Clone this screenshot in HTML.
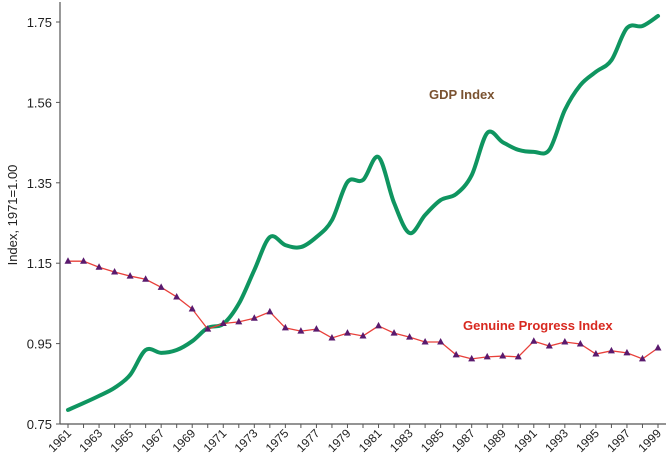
<!DOCTYPE html>
<html><head><meta charset="utf-8"><style>
html,body{margin:0;padding:0;background:#fff;}
svg{display:block;font-family:"Liberation Sans",Arial,sans-serif;}
</style></head><body>
<svg id="chart" width="672" height="462" viewBox="0 0 672 462"></svg>
<script>
const years = [];
for (let y = 1961; y <= 1999; y++) years.push(y);
const gdpValues = [0.785,0.802,0.82,0.84,0.872,0.934,0.927,0.934,0.956,0.989,0.999,1.049,1.133,1.215,1.195,1.19,1.215,1.257,1.352,1.357,1.414,1.3,1.225,1.27,1.307,1.322,1.369,1.474,1.451,1.432,1.427,1.432,1.531,1.593,1.626,1.655,1.735,1.74,1.765];
const gpiValues = [1.155,1.155,1.14,1.128,1.118,1.11,1.09,1.066,1.036,0.986,1.0,1.004,1.013,1.029,0.989,0.981,0.986,0.964,0.976,0.969,0.994,0.976,0.966,0.954,0.954,0.922,0.912,0.917,0.919,0.917,0.956,0.944,0.954,0.949,0.924,0.932,0.927,0.912,0.939];
const yTickValues = [0.75,0.95,1.15,1.35,1.55,1.75];
const yTickLabels = ["0.75","0.95","1.15","1.35","1.56","1.75"];
const xTickLabels = years.filter(y => y % 2 === 1);

const NS = "http://www.w3.org/2000/svg";
const svg = document.getElementById("chart");
const X0 = 68, X1 = 658, Y0 = 424, Y1 = 22, yMin = 0.75, yMax = 1.75;
function xScale(yr){ return X0 + (yr - 1961) * (X1 - X0) / (1999 - 1961); }
function yScale(v){ return Y0 - (v - yMin) * (Y0 - Y1) / (yMax - yMin); }
function mk(tag, attrs, parent){ const e = document.createElementNS(NS, tag); for (const k in attrs) e.setAttribute(k, attrs[k]); (parent||svg).appendChild(e); return e; }

// axes
const yAxis = mk("line",{x1:60,y1:2,x2:60,y2:Y0,stroke:"#555","stroke-width":1.2});


const xAxis = mk("line",{x1:60,y1:Y0,x2:666,y2:Y0,stroke:"#555","stroke-width":1.2});



yTickValues.forEach((v,i) => {
  const y = yScale(v);
  mk("line",{x1:56,y1:y,x2:60,y2:y,stroke:"#555"});
  const t = mk("text",{x:52,y:y+5,"text-anchor":"end","font-size":13,fill:"#222"});
  t.textContent = yTickLabels[i];
  
  
});
years.forEach(yr => {
  const x = xScale(yr);
  mk("line",{x1:x,y1:Y0,x2:x,y2:Y0+4,stroke:"#555"});
});
xTickLabels.forEach(yr => {
  const x = xScale(yr);
  const t = mk("text",{x:x+4,y:Y0+10,"text-anchor":"end","font-size":12,fill:"#222",transform:`rotate(-45 ${x+4} ${Y0+10})`});
  t.textContent = yr;
  
  
});
const yt = mk("text",{x:17,y:215,"text-anchor":"middle","font-size":13,fill:"#222",transform:"rotate(-90 17 215)"});
yt.textContent = "Index, 1971=1.00";



function smooth(pts){
  let d = `M${pts[0][0]},${pts[0][1]}`;
  for (let i = 0; i < pts.length - 1; i++){
    const p0 = pts[Math.max(0,i-1)], p1 = pts[i], p2 = pts[i+1], p3 = pts[Math.min(pts.length-1,i+2)];
    const c1x = p1[0] + (p2[0]-p0[0])/6, c1y = p1[1] + (p2[1]-p0[1])/6;
    const c2x = p2[0] - (p3[0]-p1[0])/6, c2y = p2[1] - (p3[1]-p1[1])/6;
    d += ` C${c1x},${c1y} ${c2x},${c2y} ${p2[0]},${p2[1]}`;
  }
  return d;
}
const gdpPts = years.map((yr,i) => [xScale(yr), yScale(gdpValues[i])]);
const gdp = mk("path",{d:smooth(gdpPts),fill:"none",stroke:"#0f9560","stroke-width":4,"stroke-linejoin":"round","stroke-linecap":"round"});



const gpiPts = years.map((yr,i) => [xScale(yr), yScale(gpiValues[i])]);
const gpi = mk("polyline",{points:gpiPts.map(p=>p.join(",")).join(" "),fill:"none",stroke:"#e8403a","stroke-width":1.3});


gpiPts.forEach(p => {
  const m = mk("polygon",{points:`${p[0]},${p[1]-4} ${p[0]-3.5},${p[1]+2.5} ${p[0]+3.5},${p[1]+2.5}`,fill:"#5a1a6e"});
  
  
});

const l1 = mk("text",{x:429,y:99,"font-size":13,"font-weight":"bold",fill:"#7a5230"});
l1.textContent = "GDP Index";


const l2 = mk("text",{x:463,y:330,"font-size":13,"font-weight":"bold",fill:"#d8281f"});
l2.textContent = "Genuine Progress Index";


</script>
</body></html>
